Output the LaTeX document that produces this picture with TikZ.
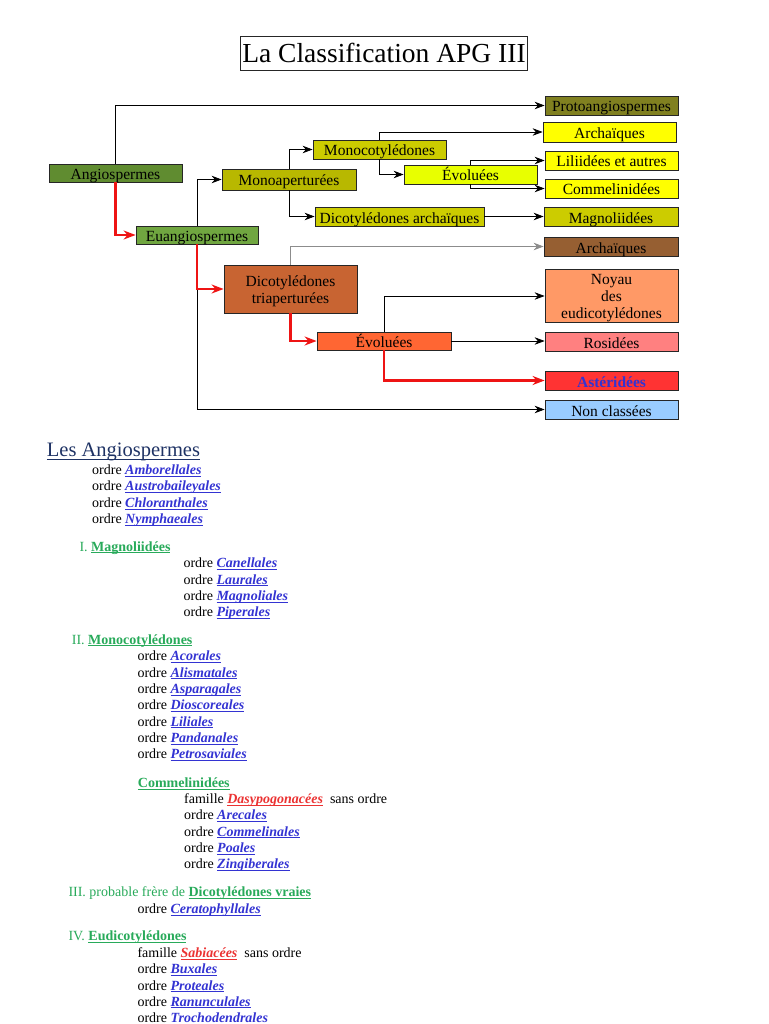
\documentclass[tikz,border=0pt]{standalone}
\usepackage{fontspec}
\setmainfont{Liberation Serif}
\usetikzlibrary{arrows.meta}

\definecolor{cangio}{RGB}{96,140,48}
\definecolor{ceuangio}{RGB}{112,166,64}
\definecolor{cmonoap}{RGB}{184,184,0}
\definecolor{colive}{RGB}{204,204,0}
\definecolor{cevola}{RGB}{232,255,0}
\definecolor{cjaune}{RGB}{255,255,0}
\definecolor{cproto}{RGB}{128,128,32}
\definecolor{cbrun}{RGB}{150,95,50}
\definecolor{cdictri}{RGB}{200,100,50}
\definecolor{cevolb}{RGB}{255,102,51}
\definecolor{cnoyau}{RGB}{255,153,102}
\definecolor{crosi}{RGB}{255,128,128}
\definecolor{caste}{RGB}{255,51,51}
\definecolor{cnonc}{RGB}{153,204,255}
\definecolor{rougefleche}{RGB}{238,20,20}
\definecolor{lienbleu}{RGB}{51,51,210}
\definecolor{lienrouge}{RGB}{235,50,50}
\definecolor{vert}{RGB}{40,170,90}
\definecolor{titrebleu}{RGB}{30,50,100}

\newcommand{\souligne}[1]{\leavevmode\setbox0=\hbox{#1}\rlap{\rule[-0.15em]{\wd0}{0.06em}}\box0}
\newcommand{\lien}[1]{\textcolor{lienbleu}{\souligne{\textbf{\textit{#1}}}}}
\newcommand{\lienrge}[1]{\textcolor{lienrouge}{\souligne{\textbf{\textit{#1}}}}}
\newcommand{\groupe}[1]{\souligne{\textbf{#1}}}

\begin{document}
\begin{tikzpicture}[x=1pt, y=-1pt,
  cadre/.style={draw=black!85, line width=0.8pt, minimum width=133, minimum height=19,
    inner sep=0pt, font=\fontsize{15.5}{17}\selectfont},
  boite/.style={cadre, text height=14.5pt, text depth=1.5pt},
  bloc/.style={cadre, align=center},
  fleche/.style={-{Stealth[length=10pt,width=7.5pt]}, line width=0.8pt},
  rouge/.style={-{Stealth[length=12pt,width=9pt]}, line width=2.2pt, draw=rougefleche},
  ligne/.style={anchor=base west, inner sep=0pt, font=\fontsize{14}{16}\selectfont}]
  \useasboundingbox (0,0) rectangle (768,1024);

  % titre
  \node[draw=black!85, line width=0.8pt, inner xsep=2pt, inner ysep=0pt, minimum height=34,
    font=\fontsize{27.5}{30}\selectfont] at (384,53) (titre) {La Classification APG III};

  % colonne de droite
  \node[boite, fill=cproto] at (611.5,105.5) (proto) {Protoangiospermes};
  \node[boite, fill=cjaune, minimum height=20] at (609.5,132) (archa) {Archaïques};
  \node[boite, fill=cjaune] at (611.5,160.5) (lili) {Liliidées et autres};
  \node[boite, fill=cjaune] at (611.5,188.5) (comm) {Commelinidées};
  \node[boite, fill=colive, minimum width=134] at (611,216.5) (magn) {Magnoliidées};
  \node[boite, fill=cbrun, minimum width=134] at (611,246.5) (archb) {Archaïques};
  \node[bloc, fill=cnoyau, minimum height=52] at (611.5,296) (noyau) {\rule{0pt}{15pt}Noyau\\des\\eudicotylédones};
  \node[boite, fill=crosi] at (611.5,341.5) (rosi) {Rosidées};
  \node[boite, fill=caste, text=lienbleu, font=\fontsize{15.5}{17}\selectfont\bfseries] at (611.5,380.5) (aste) {Astéridées};
  \node[boite, fill=cnonc] at (611.5,409.5) (nonc) {Non classées};

  % arbre
  \node[boite, fill=cangio, minimum height=18] at (115.5,173) (angio) {Angiospermes};
  \node[boite, fill=ceuangio, minimum width=122, minimum height=18] at (197,235) (euangio) {Euangiospermes};
  \node[boite, fill=cmonoap, minimum width=134, minimum height=21] at (289,179.5) (monoap) {Monoaperturées};
  \node[boite, fill=colive] at (379.5,149.5) (monocot) {Monocotylédones};
  \node[boite, fill=cevola] at (470.5,174.5) (evola) {Évoluées};
  \node[boite, fill=colive, minimum width=169] at (399.5,216.5) (dicarch) {Dicotylédones archaïques};
  \node[bloc, fill=cdictri, minimum height=48] at (290.5,289) (dictri) {\rule{0pt}{15pt}Dicotylédones\\triaperturées};
  \node[boite, fill=cevolb, minimum width=134, minimum height=18] at (384,341) (evolb) {Évoluées};

  \draw[fleche] (angio.north) |- (proto.west);
  \draw[fleche] (euangio.north) |- (monoap.west);
  \draw[fleche] (euangio.south) |- (nonc.west);
  \draw[fleche] (monoap.north) |- (monocot.west);
  \draw[fleche] (monoap.south) |- (dicarch.west);
  \draw[fleche] (monocot.north) |- (archa.west);
  \draw[fleche] (monocot.south) |- (evola.west);
  \draw[fleche] (evola.north) |- (lili.west);
  \draw[fleche] (evola.south) |- (comm.west);
  \draw[fleche] (dicarch.east) -- (magn.west);
  \draw[fleche, draw=black!45] (dictri.north) |- (archb.west);
  \draw[fleche] (evolb.north) |- (noyau.west);
  \draw[fleche] (evolb.east) -- (evolb.east -| rosi.west);
  \draw[rouge] (angio.south) |- (euangio.west);
  \draw[rouge] (euangio.south) |- (dictri.west);
  \draw[rouge] (dictri.south) |- (evolb.west);
  \draw[rouge] (evolb.south) |- (aste.west);

  % liste des ordres
  \node[ligne, font=\fontsize{20.5}{24}\selectfont, text=titrebleu] at (46.7,456.7) (angiotitre) {\souligne{Les Angiospermes}};
  \foreach \nom/\y [count=\i] in {Amborellales/474.3, Austrobaileyales/490.8, Chloranthales/507.3, Nymphaeales/523.8}
    \node[ligne] at (92,\y) (base\i) {ordre \lien{\nom}};

  \node[ligne, text=vert] at (79.3,551) (magnoliidees) {I. \groupe{Magnoliidées}};
  \foreach \nom/\y [count=\i] in {Canellales/567.7, Laurales/584, Magnoliales/600.3, Piperales/616.7}
    \node[ligne] at (183.3,\y) (magno\i) {ordre \lien{\nom}};

  \node[ligne, text=vert] at (71.7,644) (monocots) {II. \groupe{Monocotylédones}};
  \foreach \nom/\y [count=\i] in {Acorales/660.7, Alismatales/677, Asparagales/693.3, Dioscoreales/709.7,
      Liliales/726, Pandanales/742.3, Petrosaviales/758.7}
    \node[ligne] at (137.3,\y) (mono\i) {ordre \lien{\nom}};

  \node[ligne, text=vert] at (137.7,787.3) (commelinidees) {\groupe{Commelinidées}};
  \node[ligne] at (184,803.3) (dasy) {famille \lienrge{Dasypogonacées}\ \ sans ordre};
  \foreach \nom/\y [count=\i] in {Arecales/819.5, Commelinales/836, Poales/852.3, Zingiberales/868.5}
    \node[ligne] at (184,\y) (comme\i) {ordre \lien{\nom}};

  \node[ligne, text=vert] at (68.3,896.7) (ceratogroupe) {III. probable frère de \groupe{Dicotylédones vraies}};
  \node[ligne] at (137.3,913.3) (cerato) {ordre \lien{Ceratophyllales}};

  \node[ligne, text=vert] at (68.3,940.7) (eudicots) {IV. \groupe{Eudicotylédones}};
  \node[ligne] at (137.3,957.3) (sabia) {famille \lienrge{Sabiacées}\ \ sans ordre};
  \foreach \nom/\y [count=\i] in {Buxales/973.5, Proteales/990, Ranunculales/1006, Trochodendrales/1022.3}
    \node[ligne] at (137.3,\y) (eudi\i) {ordre \lien{\nom}};
\end{tikzpicture}
\end{document}
